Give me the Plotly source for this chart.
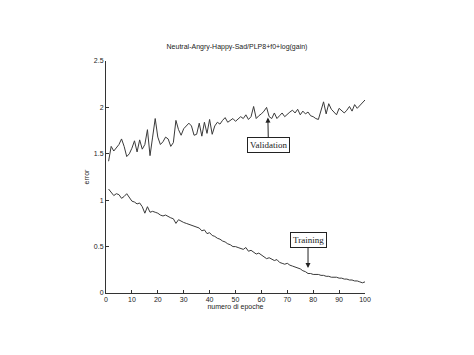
import plotly.graph_objects as go

epochs = list(range(1, 101))

validation = [
    1.42, 1.58, 1.53, 1.56, 1.60, 1.66, 1.58, 1.47, 1.50, 1.56,
    1.64, 1.52, 1.65, 1.55, 1.60, 1.76, 1.48, 1.68, 1.88, 1.68,
    1.60, 1.63, 1.68, 1.66, 1.58, 1.62, 1.86, 1.76, 1.70, 1.77,
    1.80, 1.83, 1.80, 1.70, 1.71, 1.83, 1.69, 1.84, 1.72, 1.87,
    1.71, 1.80, 1.84, 1.82, 1.86, 1.89, 1.84, 1.86, 1.88, 1.85,
    1.87, 1.90, 1.88, 1.92, 1.87, 1.90, 2.01, 1.88, 1.91, 1.93,
    1.96, 2.00, 1.90, 1.88, 1.94, 1.88, 1.91, 1.94, 1.90, 1.93,
    1.95, 1.97, 1.94, 1.98, 1.92, 1.96, 1.93, 1.95, 1.91, 1.90,
    1.88, 1.87, 1.96, 2.06, 1.93, 2.04, 1.98, 1.95, 1.92, 1.99,
    1.96, 1.94, 1.97, 2.01, 1.96, 2.03, 1.99, 2.02, 2.05, 2.08,
]

training = [
    1.12, 1.08, 1.05, 1.07, 1.06, 1.02, 1.04, 1.07, 1.03, 0.99,
    0.98, 0.96, 0.97, 0.93, 0.86, 0.93, 0.87, 0.88, 0.87, 0.86,
    0.84, 0.83, 0.84, 0.82, 0.81, 0.80, 0.75, 0.79, 0.77, 0.76,
    0.75, 0.74, 0.73, 0.72, 0.71, 0.70, 0.67, 0.68, 0.64, 0.65,
    0.62, 0.61, 0.59, 0.58, 0.56, 0.55, 0.53, 0.52, 0.50, 0.50,
    0.49, 0.48, 0.47, 0.49, 0.45, 0.46, 0.44, 0.42, 0.43, 0.41,
    0.39, 0.37, 0.38, 0.36, 0.35, 0.36, 0.33, 0.32, 0.31, 0.32,
    0.30, 0.29, 0.28, 0.27, 0.26, 0.24, 0.23, 0.21, 0.21, 0.20,
    0.20, 0.20, 0.19, 0.19, 0.18, 0.18, 0.17, 0.17, 0.17, 0.16,
    0.16, 0.15, 0.15, 0.14, 0.14, 0.13, 0.13, 0.12, 0.11, 0.12,
]

x_ticks = list(range(0, 101, 10))
y_ticks = [0, 0.5, 1, 1.5, 2, 2.5]
y_ticklabels = ["0", "0.5", "1", "1.5", "2", "2.5"]

title_text = "Neutral-Angry-Happy-Sad/PLP8+f0+log(gain)"
x_title = "numero di epoche"
y_title = "error"

line_color = "#3a3a3a"

fig = go.Figure()
fig.add_trace(go.Scatter(x=epochs, y=validation, mode="lines",
                         line=dict(color=line_color, width=1), showlegend=False))
fig.add_trace(go.Scatter(x=epochs, y=training, mode="lines",
                         line=dict(color=line_color, width=1), showlegend=False))

sans = "Liberation Sans, Arial, sans-serif"
serif = "Liberation Serif, Times New Roman, serif"

fig.update_layout(
    width=474, height=355,
    margin=dict(l=106, r=109, t=61, b=62),
    paper_bgcolor="white", plot_bgcolor="white",
    title=dict(text=title_text, x=0.5, xanchor="center", y=1 - 47 / 355, yanchor="middle",
               font=dict(family=sans, size=7, color="#222")),
    font=dict(family=sans, size=7, color="#222"),
    xaxis=dict(range=[0, 100], tickvals=x_ticks, ticks="inside", ticklen=3,
               tickcolor="#333", showline=True, linecolor="#333", linewidth=1,
               showgrid=False, zeroline=False, mirror=False,
               title=dict(text=x_title, font=dict(family=sans, size=7), standoff=1),
               tickfont=dict(family=sans, size=7)),
    yaxis=dict(range=[0, 2.5], tickvals=y_ticks, ticktext=y_ticklabels, ticks="inside",
               ticklen=3, tickcolor="#333", showline=True, linecolor="#333", linewidth=1,
               showgrid=False, zeroline=False, mirror=False,
               title=dict(text=y_title, font=dict(family=sans, size=7), standoff=3),
               tickfont=dict(family=sans, size=7)),
)

fig.add_annotation(x=62.5, y=1.89, ax=62.7, ay=1.595, xref="x", yref="y", axref="x", ayref="y",
                   text="Validation", showarrow=True, arrowhead=2, arrowsize=1, arrowwidth=1,
                   arrowcolor="#222", bordercolor="#222", borderwidth=1, borderpad=2,
                   bgcolor="white", font=dict(family=serif, size=9, color="#222"))
fig.add_annotation(x=78, y=0.27, ax=78, ay=0.571, xref="x", yref="y", axref="x", ayref="y",
                   text="Training", showarrow=True, arrowhead=2, arrowsize=1, arrowwidth=1,
                   arrowcolor="#222", bordercolor="#222", borderwidth=1, borderpad=2,
                   bgcolor="white", font=dict(family=serif, size=9, color="#222"))

fig.write_html("out.html")
